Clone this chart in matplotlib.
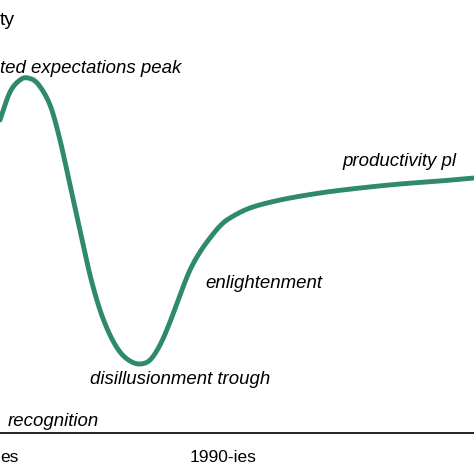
import matplotlib
matplotlib.use("Agg")
import matplotlib.pyplot as plt
import numpy as np

curve_x = [0,10,20,28,38,50,60,70,80,90,100,110,120,130,140,150,160,170,180,190,200,210,220,230,250,280,320,360,400,440,474]
curve_y = [120,92,80,78,84,105,140,185,230,275,310,335,352,361,364,360,345,322,295,270,252,238,226,218,208,200,193,188,184,181,178]
labels = ["ted expectations peak","productivity pl","enlightenment","disillusionment trough","recognition"]
label_pos = [(0,68),(342,162),(205,284),(90,380),(8,421)]
tick_labels = ["es","1990-ies"]
tick_pos = [(0,457),(190,457)]

plt.rcParams['font.family'] = ['Liberation Sans', 'DejaVu Sans']

def catmull(xs, ys, n=12):
    P = np.column_stack([xs, ys]).astype(float)
    P = np.vstack([P[0], P, P[-1]])
    out = []
    t = np.linspace(0, 1, n, endpoint=False)[:, None]
    for i in range(1, len(P) - 2):
        p0, p1, p2, p3 = P[i-1], P[i], P[i+1], P[i+2]
        out.append(0.5*((2*p1) + (-p0+p2)*t + (2*p0-5*p1+4*p2-p3)*t**2 + (-p0+3*p1-3*p2+p3)*t**3))
    out.append(P[-2][None, :])
    out = np.vstack(out)
    return out[:, 0], out[:, 1]

fig = plt.figure(figsize=(4.74,4.74), dpi=100)
ax = fig.add_axes([0,0,1,1])
ax.set_xlim(0,474); ax.set_ylim(474,0); ax.axis("off")
sx, sy = catmull(curve_x, curve_y)
ax.plot(sx, sy, color="#2e8a68", lw=3.5, solid_capstyle="round")
ax.plot([0,474],[433,433], color="black", lw=1.2)
ax.text(0,20,"ty", fontsize=14, va="center", ha="left")
for t,(x,y) in zip(labels,label_pos):
    ax.text(x,y,t, fontsize=13.4, style="italic", va="center", ha="left")
for t,(x,y) in zip(tick_labels,tick_pos):
    ax.text(x,y,t, fontsize=12.5, va="center", ha="left")
fig.savefig("out.png", dpi=100)
